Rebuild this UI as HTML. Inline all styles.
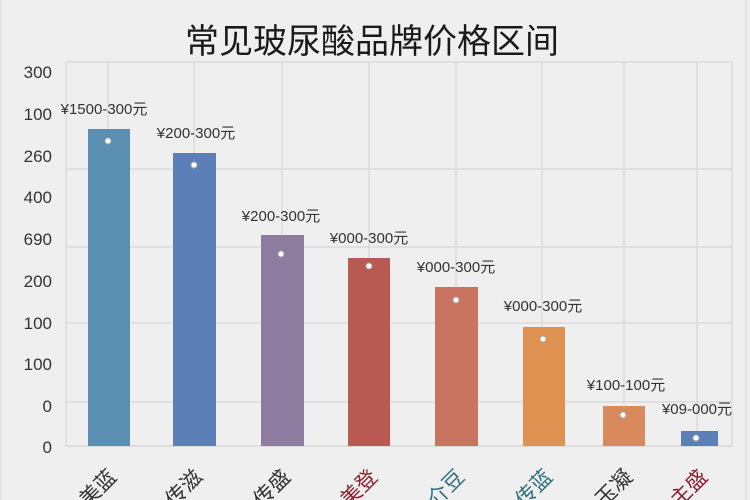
<!DOCTYPE html>
<html><head><meta charset="utf-8"><style>
body{margin:0;background:#efefef;}
svg{display:block;font-family:"Liberation Sans","Noto Sans CJK SC",sans-serif;}
</style></head><body>
<svg width="750" height="500" viewBox="0 0 750 500">
<rect width="750" height="500" fill="#efefef"/>
<line x1="746" y1="0" x2="746" y2="500" stroke="#d4d4d4"/>
<line x1="1" y1="0" x2="1" y2="500" stroke="#dcdcdc"/>
<text x="372" y="53" text-anchor="middle" font-size="34" fill="#1a1a1a" font-family="Liberation Sans,Noto Sans CJK SC,sans-serif">常见玻尿酸品牌价格区间</text>
<g stroke="#d2d2d2" stroke-width="1">
<line x1="66" y1="62" x2="732" y2="62"/>
<line x1="66" y1="169" x2="732" y2="169"/>
<line x1="66" y1="247" x2="732" y2="247"/>
<line x1="66" y1="323" x2="732" y2="323"/>
<line x1="66" y1="402" x2="732" y2="402"/>
<line x1="66" y1="62" x2="66" y2="446"/>
<line x1="732" y1="62" x2="732" y2="446"/>
<line x1="108" y1="62" x2="108" y2="140"/>
<line x1="194" y1="62" x2="194" y2="165"/>
<line x1="282" y1="62" x2="282" y2="245"/>
<line x1="369" y1="62" x2="369" y2="265"/>
<line x1="456" y1="62" x2="456" y2="298"/>
<line x1="542" y1="62" x2="542" y2="337"/>
<line x1="624" y1="62" x2="624" y2="414"/>
<line x1="697" y1="62" x2="697" y2="438"/>
</g>
<line x1="66" y1="446" x2="732" y2="446" stroke="#c8c8c8"/>
<g font-size="17" fill="#333" text-anchor="end">
<text x="52" y="78">300</text><text x="52" y="120">100</text><text x="52" y="162">260</text>
<text x="52" y="203">400</text><text x="52" y="245">690</text><text x="52" y="287">200</text>
<text x="52" y="329">100</text><text x="52" y="370">100</text><text x="52" y="412">0</text>
<text x="52" y="453">0</text>
</g>
<rect x="88" y="129" width="42" height="317" fill="#5b8fb1"/>
<rect x="173" y="153" width="43" height="293" fill="#5b7fb6"/>
<rect x="261" y="235" width="43" height="211" fill="#8e7ba0"/>
<rect x="348" y="258" width="42" height="188" fill="#b85a52"/>
<rect x="435" y="287" width="43" height="159" fill="#c87461"/>
<rect x="523" y="327" width="42" height="119" fill="#df9151"/>
<rect x="603" y="406" width="42" height="40" fill="#d98a5c"/>
<rect x="681" y="431" width="37" height="15" fill="#5b80b8"/>
<g fill="#fff" stroke="#aaa" stroke-width="1">
<circle cx="108" cy="141" r="3"/><circle cx="194" cy="165" r="3"/><circle cx="281" cy="254" r="3"/>
<circle cx="369" cy="266" r="3"/><circle cx="456" cy="300" r="3"/><circle cx="543" cy="339" r="3"/>
<circle cx="623" cy="415" r="3"/><circle cx="696" cy="438" r="3"/>
</g>
<g font-size="15" fill="#333" text-anchor="middle">
<text x="104" y="114">¥1500-300元</text>
<text x="196" y="138">¥200-300元</text>
<text x="281" y="221">¥200-300元</text>
<text x="369" y="243">¥000-300元</text>
<text x="456" y="272">¥000-300元</text>
<text x="543" y="311">¥000-300元</text>
<text x="626" y="390">¥100-100元</text>
<text x="697" y="414">¥09-000元</text>
</g>
<g font-size="21" font-family="Noto Sans CJK SC,sans-serif">
<text transform="translate(88,508) rotate(-45)" fill="#333">美蓝</text>
<text transform="translate(174,508) rotate(-45)" fill="#333">传滋</text>
<text transform="translate(262,508) rotate(-45)" fill="#333">传盛</text>
<text transform="translate(349,508) rotate(-45)" fill="#8a2030">美登</text>
<text transform="translate(436,508) rotate(-45)" fill="#2f6f80">介豆</text>
<text transform="translate(524,508) rotate(-45)" fill="#2f6f80">传蓝</text>
<text transform="translate(604,508) rotate(-45)" fill="#333">玉凝</text>
<text transform="translate(679,508) rotate(-45)" fill="#8a2030">主盛</text>
</g>
</svg>
</body></html>
